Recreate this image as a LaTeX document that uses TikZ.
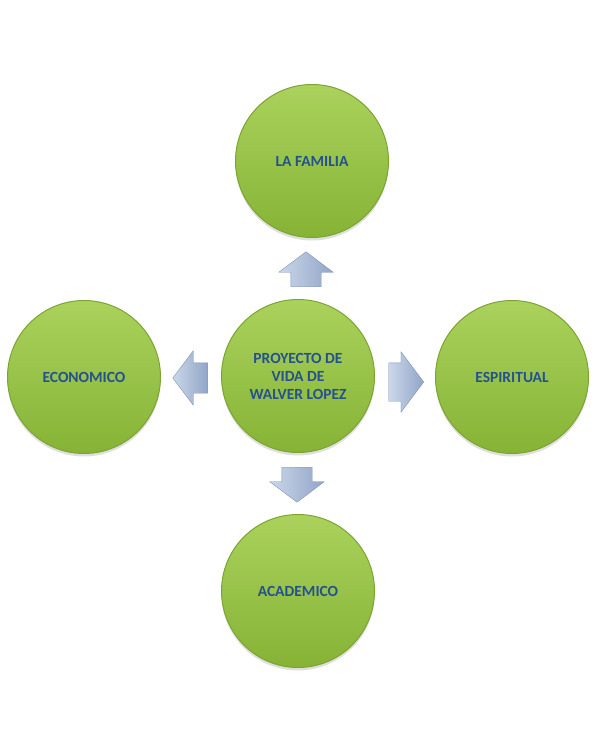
\documentclass[tikz,border=0pt]{standalone}
\usepackage{fontspec}
\setmainfont{Carlito}
\usetikzlibrary{shapes.arrows,shadows}
\definecolor{leafTop}{HTML}{AAD25C}
\definecolor{leafBot}{HTML}{86B336}
\definecolor{leafRim}{HTML}{7BA52E}
\definecolor{inkBlue}{HTML}{24518F}
\definecolor{skyTop}{HTML}{CBD7EA}
\definecolor{skyBot}{HTML}{91A5C7}
\definecolor{skyRim}{HTML}{8094B6}
\tikzset{
  topic/.style={circle,minimum size=153pt,inner sep=0pt,
    top color=leafTop,bottom color=leafBot,draw=leafRim,line width=1pt,
    drop shadow={opacity=0.25,shadow xshift=0pt,shadow yshift=-3pt},
    font=\bfseries\fontsize{15.5}{18}\selectfont,text=inkBlue,align=center},
  pointer/.style={single arrow,inner xsep=0pt,inner ysep=15pt,minimum height=35pt,
    single arrow head extend=12pt,single arrow tip angle=106,
    left color=skyTop,right color=skyBot,draw=skyRim,line width=0.4pt}
}
\begin{document}
\begin{tikzpicture}[x=1pt,y=-1pt]
\useasboundingbox[fill=white] (0,0) rectangle (595,754);
% circles
\node[topic] (center) at (298,376) {PROYECTO DE\\VIDA DE\\WALVER LOPEZ};
\node[topic] (family) at (312,161) {LA FAMILIA};
\node[topic] (economy) at (84,377) {ECONOMICO};
\node[topic] (spirit) at (512,377) {ESPIRITUAL};
\node[topic] (academy) at (298,591) {ACADEMICO};
% arrows
\node[pointer,rotate=90] (toFamily) at (306,275) {};
\node[pointer,rotate=180] (toEconomy) at (196,378) {};
\node[pointer,inner ysep=19pt,single arrow head extend=11pt] (toSpirit) at (399,382) {};
\node[pointer,rotate=-90] (toAcademy) at (297,479) {};
\end{tikzpicture}
\end{document}
